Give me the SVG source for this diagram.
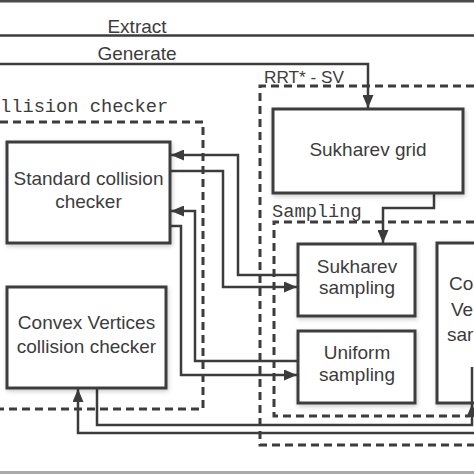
<svg xmlns="http://www.w3.org/2000/svg" width="474" height="474" viewBox="0 0 474 474">
<style>
.box{fill:#fff;stroke:#3c3c3c;stroke-width:3;filter:url(#sh)}
.t{font-family:"Liberation Sans",Arial,sans-serif;font-size:19px;fill:#3c3c3c;text-anchor:middle}
.s{text-anchor:start}
.m{font-family:"Liberation Mono","Courier New",monospace;font-size:18.7px;fill:#3c3c3c}
.c{fill:none;stroke:#3c3c3c;stroke-width:2.5}
.d{fill:none;stroke:#3c3c3c;stroke-width:3;stroke-dasharray:8 5}
</style>
<defs>
<filter id="sh" x="-10%" y="-10%" width="130%" height="130%"><feDropShadow dx="1" dy="2" stdDeviation="2" flood-color="#000" flood-opacity="0.2"/></filter>
<marker id="a" markerUnits="userSpaceOnUse" markerWidth="14" markerHeight="11" refX="13" refY="5.5" orient="auto"><path d="M0,0 L13,5.5 L0,11 z" fill="#3c3c3c"/></marker>
</defs>
<rect x="0" y="0" width="474" height="474" fill="#fff"/>
<rect x="0" y="0" width="474" height="2.5" fill="#4a4a4a"/>
<rect x="0" y="471" width="474" height="3" fill="#aaa"/>

<g id="groups">
<path class="d" d="M0,122 H203 V409 H0"/>
<text class="m" x="0" y="112">llision checker</text>
<path class="d" d="M474,86 H260 V445 H474"/>
<text class="t" x="304" y="83" style="font-size:17px" textLength="80" lengthAdjust="spacingAndGlyphs">RRT* - SV</text>
<path class="d" d="M474,222 H274 V416 H470"/>
<text class="m" x="272" y="217">Sampling</text>
</g>

<g id="connectors">
<path class="c" d="M0,35.5 H474"/>
<text class="t" x="137" y="33">Extract</text>
<path class="c" d="M0,64 H368 V108" marker-end="url(#a)"/>
<text class="t" x="137" y="60">Generate</text>
<path class="c" d="M434,193 V208 H383 V243" marker-end="url(#a)"/>
<path class="c" d="M298,275 H238 V155 H171" marker-end="url(#a)"/>
<path class="c" d="M170,171 H223 V287 H297" marker-end="url(#a)"/>
<path class="c" d="M298,361 H195 V211 H171" marker-end="url(#a)"/>
<path class="c" d="M170,226 H181 V375 H297" marker-end="url(#a)"/>
<path class="c" d="M97,388 V425 H472 V404" marker-end="url(#a)"/>
<path class="c" d="M474,433 H78 V389" marker-end="url(#a)"/>
</g>

<g id="standard-checker">
<rect class="box" x="7" y="142" width="163" height="101"/>
<text class="t" x="88.5" y="185">Standard collision</text>
<text class="t" x="88.5" y="208">checker</text>
</g>
<g id="convex-checker">
<rect class="box" x="7" y="287" width="159" height="101"/>
<text class="t" x="86.5" y="329">Convex Vertices</text>
<text class="t" x="86.5" y="353">collision checker</text>
</g>
<g id="sukharev-grid">
<rect class="box" x="273" y="109" width="190" height="84"/>
<text class="t" x="368" y="156">Sukharev grid</text>
</g>
<g id="sukharev-sampling">
<rect class="box" x="298" y="244" width="117" height="72"/>
<text class="t" x="357" y="273">Sukharev</text>
<text class="t" x="357" y="294">sampling</text>
</g>
<g id="uniform-sampling">
<rect class="box" x="298" y="331" width="117" height="72"/>
<text class="t" x="357" y="359">Uniform</text>
<text class="t" x="357" y="381">sampling</text>
</g>
<g id="convex-sampling">
<rect class="box" x="437" y="243" width="100" height="160"/>
<path class="c" d="M472,367 V403"/>
<text class="t s" x="449" y="290">Co</text>
<text class="t s" x="451" y="316">Ve</text>
<text class="t s" x="447" y="341">sar</text>
</g>
</svg>
